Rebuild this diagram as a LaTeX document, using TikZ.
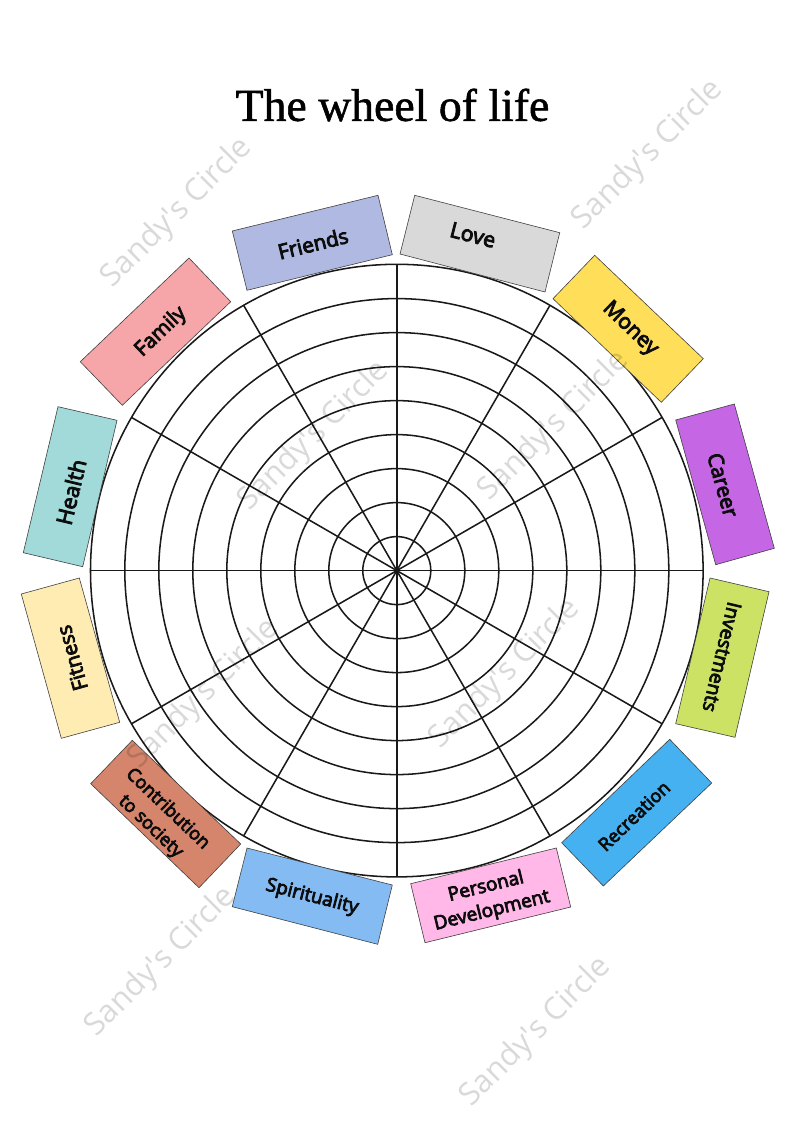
\documentclass[tikz,border=0pt]{standalone}
\usepackage{fontspec}
\setmainfont{Open Sans}
\newfontfamily\titlefont[FakeBold=1.2]{Liberation Serif}
\newfontfamily\lblfont[FakeBold=4.2]{Open Sans}
\usetikzlibrary{calc}
\definecolor{cFriends}{HTML}{B0B9E2}
\definecolor{cFamily}{HTML}{F6A6A8}
\definecolor{cHealth}{HTML}{A2D9D9}
\definecolor{cLove}{HTML}{D9D9D9}
\definecolor{cMoney}{HTML}{FFDE59}
\definecolor{cCareer}{HTML}{C566E5}
\definecolor{cFitness}{HTML}{FFECB3}
\definecolor{cContrib}{HTML}{D4856B}
\definecolor{cSpirit}{HTML}{84BBF2}
\definecolor{cInvest}{HTML}{CBE265}
\definecolor{cRecre}{HTML}{45B1F0}
\definecolor{cPersonal}{HTML}{FFB8E8}
\tikzset{
  x=0.75pt,y=-0.75pt,
  ring/.style={draw=black!90,line width=1.15pt},
  spoke/.style={draw=black!90,line width=1.15pt},
  tile/.style={draw=black!75,line width=0.45pt},
  lbl/.style={font=\lblfont\fontsize{#1}{18.5}\selectfont,text=black!95,align=center,inner sep=0pt},
  wm/.style={font=\fontsize{23.3}{26}\selectfont,text=black,opacity=0.15,inner sep=0pt,rotate=45},
}
\newcommand{\wmtext}{Sandy\textquotesingle s Circle}
\begin{document}
\begin{tikzpicture}
\useasboundingbox (0,0) rectangle (794,1123);
\fill[white] (0,0) rectangle (794,1123);
\coordinate (hub) at (396.8,570.6);
\foreach \r in {34,68,...,272}{\path[ring] (hub) circle [radius=\r*0.75pt];}
\path[ring] (hub) circle [radius=306.3*0.75pt];
\foreach \a in {0,30,...,330}{\path[spoke] (hub) -- ($(hub)+(\a:306.3*0.75pt)$);}
% tiles
\path[tile,fill=cFriends] (232.3,231) -- (378,195.3) -- (392.3,254.7) -- (247,290.3) -- cycle;
\path[tile,fill=cFamily] (189,258) -- (230.7,301.7) -- (122.3,405.3) -- (80.3,361.7) -- cycle;
\path[tile,fill=cHealth] (58,406.7) -- (117,420.3) -- (82.7,566.7) -- (23.3,552.7) -- cycle;
\path[tile,fill=cLove] (414.7,195.3) -- (559.7,232.7) -- (545,292) -- (400,254) -- cycle;
\path[tile,fill=cMoney] (594.7,255.3) -- (703.3,358.7) -- (661.3,402.3) -- (553,298.7) -- cycle;
\path[tile,fill=cCareer] (734.3,404) -- (774.3,548.3) -- (715.7,564.7) -- (675.7,420) -- cycle;
\path[tile,fill=cFitness] (79.3,578) -- (119.7,722.3) -- (61.3,738.3) -- (21.3,594) -- cycle;
\path[tile,fill=cContrib] (132.3,740.3) -- (240.7,844) -- (199,887.7) -- (90.7,783.7) -- cycle;
\path[tile,fill=cSpirit] (247,848) -- (392.3,885) -- (377.7,944.3) -- (232.3,906.7) -- cycle;
\path[tile,fill=cInvest] (710,578) -- (769,591.7) -- (735,737.3) -- (675.7,723.7) -- cycle;
\path[tile,fill=cRecre] (669.7,739.3) -- (711.7,783) -- (603.3,886) -- (561.7,842.7) -- cycle;
\path[tile,fill=cPersonal] (556.3,848) -- (570.7,907) -- (425,942.7) -- (410.7,883.7) -- cycle;
% labels
\node[lbl=15.6,rotate=13.8] (friends) at (313,243.5) {Friends};
\node[lbl=15.4,rotate=43.7] (family) at (161,332) {Family};
\node[lbl=16.2,rotate=76.5] (health) at (71,492) {Health};
\node[lbl=15.4,rotate=105.5] (fitness) at (72,658) {Fitness};
\node[lbl=16,rotate=-14.5] (love) at (473,235) {Love};
\node[lbl=16,rotate=-43.6] (money) at (630,329) {Money};
\node[lbl=15.8,rotate=-74.5] (career) at (723,485) {Career};
\node[lbl=14.7,rotate=-103.3] (invest) at (722,657) {Investments};
\node[lbl=13.7,rotate=43.9] (recre) at (634,816) {Recreation};
\node[lbl=14.3,rotate=-14.3] (spirit) at (312,897) {Spirituality};
\node[lbl=14.2,rotate=13.8] (personal) at (489,899) {Personal\\Development};
\node[lbl=13.7,rotate=-43.7] (contrib) at (159,818) {Contribution\\to society};
% title
\node[font=\titlefont\fontsize{34.3}{38}\selectfont,text=black,inner sep=0pt] (title) at (392.5,105) {The wheel of life};
% watermarks
\node[wm] (w1) at (177,213) {\wmtext};
\node[wm] (w2) at (648,155) {\wmtext};
\node[wm] (w3) at (314,436) {\wmtext};
\node[wm] (w4) at (554,426) {\wmtext};
\node[wm] (w5) at (204,694) {\wmtext};
\node[wm] (w6) at (505,674) {\wmtext};
\node[wm] (w7) at (161,962) {\wmtext};
\node[wm] (w8) at (536,1032) {\wmtext};
\end{tikzpicture}
\end{document}
